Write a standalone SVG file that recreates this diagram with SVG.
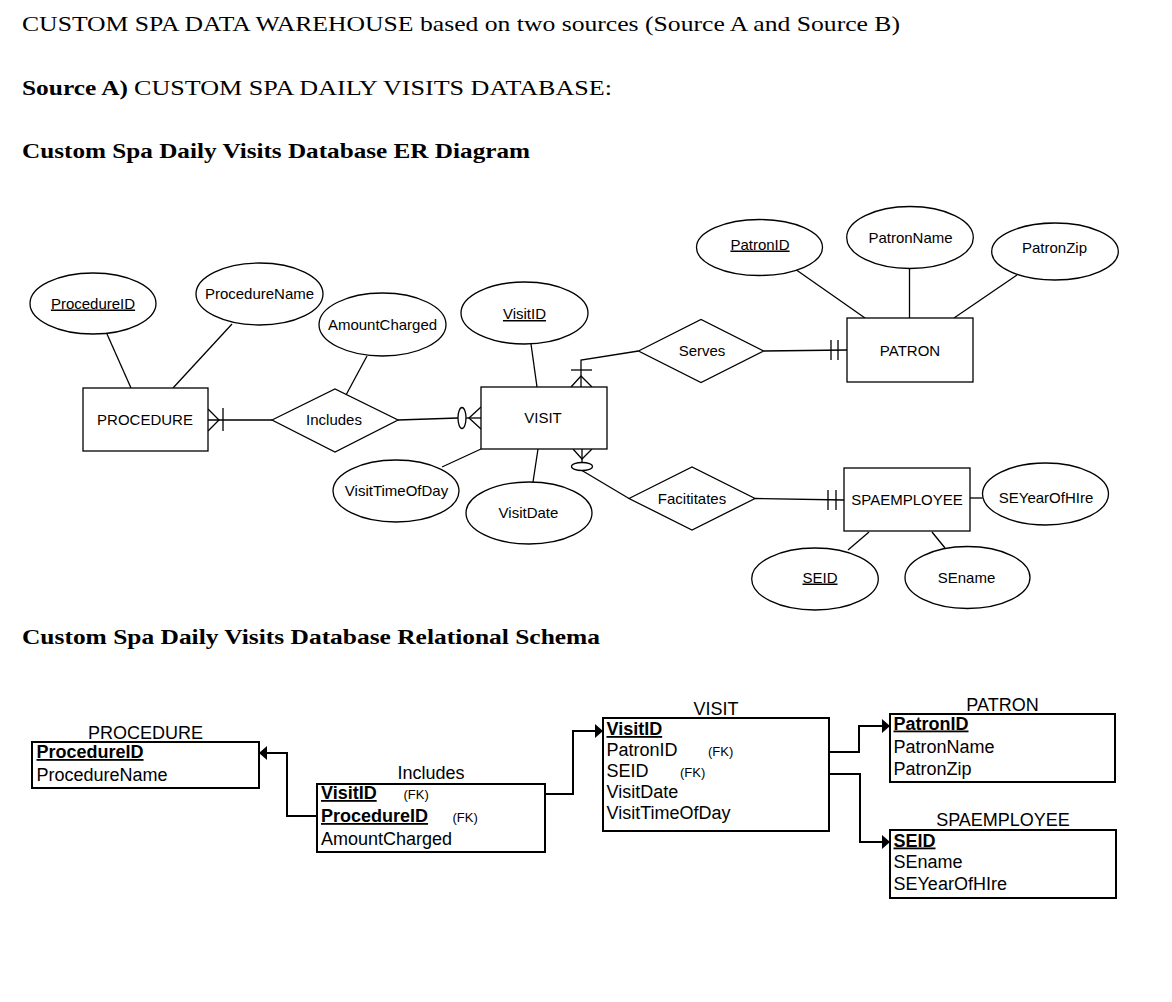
<svg xmlns="http://www.w3.org/2000/svg" width="1172" height="1002" viewBox="0 0 1172 1002">
<style>
.t{font-family:"Liberation Serif","Times New Roman",serif;font-size:22px;fill:#000}
.b{font-weight:bold}
.er{font-family:"Liberation Sans",Arial,sans-serif;font-size:15px;fill:#000;text-anchor:middle}
.u{text-decoration:underline}
.shape{fill:#fff;stroke:#000;stroke-width:1.3}
.ln{stroke:#000;stroke-width:1.3;fill:none}
.tb{fill:#fff;stroke:#000;stroke-width:2}
.rt{font-family:"Liberation Sans",Arial,sans-serif;font-size:18px;fill:#000}
.lbl{text-anchor:middle}
.fk{font-family:"Liberation Sans",Arial,sans-serif;font-size:13px;fill:#000}
.cn{stroke:#000;stroke-width:2;fill:none;marker-end:url(#arr)}
</style>
<defs>
<marker id="arr" viewBox="0 0 8 14" refX="8" refY="7" markerWidth="8" markerHeight="14" markerUnits="userSpaceOnUse" orient="auto">
<path d="M0,0 L8,7 L0,14 z" fill="#000"/>
</marker>
</defs>
<rect width="1172" height="1002" fill="#fff"/>

<g id="titles">
<text class="t" x="22" y="31" textLength="878" lengthAdjust="spacingAndGlyphs">CUSTOM SPA DATA WAREHOUSE based on two sources (Source A and Source B)</text>
<text class="t b" x="22" y="95" textLength="106" lengthAdjust="spacingAndGlyphs">Source A)</text>
<text class="t" x="134" y="95" textLength="478" lengthAdjust="spacingAndGlyphs">CUSTOM SPA DAILY VISITS DATABASE:</text>
<text class="t b" x="22" y="158" textLength="508" lengthAdjust="spacingAndGlyphs">Custom Spa Daily Visits Database ER Diagram</text>
<text class="t b" x="22" y="644" textLength="578" lengthAdjust="spacingAndGlyphs">Custom Spa Daily Visits Database Relational Schema</text>
</g>

<g id="er-connectors">
<line class="ln" x1="107" y1="334" x2="131" y2="388"/>
<line class="ln" x1="232" y1="324" x2="173" y2="388"/>
<line class="ln" x1="367" y1="356" x2="346" y2="395"/>
<line class="ln" x1="208" y1="420" x2="272" y2="420"/>
<polyline class="ln" points="208,409 219,420 208,431"/>
<line class="ln" x1="223" y1="408" x2="223" y2="431"/>
<line class="ln" x1="398" y1="420" x2="458" y2="418"/>
<ellipse class="shape" cx="462" cy="418" rx="4" ry="10.5"/>
<polyline class="ln" points="481,407 469,418 481,429"/>
<line class="ln" x1="466" y1="418" x2="481" y2="418"/>
<line class="ln" x1="531" y1="344" x2="537" y2="387"/>
<polyline class="ln" points="571,387 581,376 592,387"/>
<polyline class="ln" points="581,387 581,360 638.5,351"/>
<line class="ln" x1="571" y1="370" x2="592" y2="370"/>
<line class="ln" x1="763.5" y1="351" x2="847" y2="350"/>
<line class="ln" x1="831" y1="340" x2="831" y2="360"/>
<line class="ln" x1="838" y1="340" x2="838" y2="360"/>
<line class="ln" x1="795" y1="269" x2="865" y2="318"/>
<line class="ln" x1="909.5" y1="269" x2="909.5" y2="318"/>
<line class="ln" x1="1017" y1="275" x2="954" y2="318"/>
<polyline class="ln" points="573,449 582,459 592,449"/>
<line class="ln" x1="582" y1="449" x2="582" y2="462.5"/>
<ellipse class="shape" cx="582" cy="466.5" rx="10.5" ry="4"/>
<line class="ln" x1="582" y1="470.5" x2="629" y2="498.5"/>
<line class="ln" x1="755" y1="498.5" x2="844" y2="500"/>
<line class="ln" x1="828" y1="490" x2="828" y2="510"/>
<line class="ln" x1="836" y1="490" x2="836" y2="510"/>
<line class="ln" x1="970" y1="498" x2="982.5" y2="498"/>
<line class="ln" x1="869" y1="532" x2="848" y2="550"/>
<line class="ln" x1="932" y1="532" x2="945" y2="548"/>
<line class="ln" x1="442" y1="467" x2="481" y2="449"/>
<line class="ln" x1="538" y1="449" x2="533" y2="482"/>
</g>

<g id="er-procedure"><rect class="shape" x="83" y="388" width="125" height="63"/><text class="er" x="145" y="425">PROCEDURE</text></g>
<g id="er-visit"><rect class="shape" x="481" y="387" width="126" height="62"/><text class="er" x="543" y="423">VISIT</text></g>
<g id="er-patron"><rect class="shape" x="847" y="318" width="126" height="64"/><text class="er" x="910" y="356">PATRON</text></g>
<g id="er-spaemployee"><rect class="shape" x="844" y="468" width="126" height="63"/><text class="er" x="907" y="505">SPAEMPLOYEE</text></g>

<g id="er-includes"><polygon class="shape" points="272,420 335,389 398,420 335,452"/><text class="er" x="334" y="425">Includes</text></g>
<g id="er-serves"><polygon class="shape" points="638.5,351 701,319.5 763.5,351 701,382.5"/><text class="er" x="702" y="356">Serves</text></g>
<g id="er-facititates"><polygon class="shape" points="629,498.5 692,467 755,498.5 692,530"/><text class="er" x="692" y="503.5">Facititates</text></g>

<g id="attr-procedureid"><ellipse class="shape" cx="93" cy="303.5" rx="63" ry="30.5"/><text class="er u" x="93" y="308.5">ProcedureID</text></g>
<g id="attr-procedurename"><ellipse class="shape" cx="259.5" cy="294" rx="63.5" ry="31"/><text class="er" x="259.5" y="299">ProcedureName</text></g>
<g id="attr-amountcharged"><ellipse class="shape" cx="382.5" cy="324.5" rx="63.5" ry="31.5"/><text class="er" x="382.5" y="329.5">AmountCharged</text></g>
<g id="attr-visitid"><ellipse class="shape" cx="524.5" cy="313" rx="63.5" ry="31"/><text class="er u" x="524.5" y="319">VisitID</text></g>
<g id="attr-visittimeofday"><ellipse class="shape" cx="396" cy="491" rx="63" ry="31"/><text class="er" x="396.5" y="496">VisitTimeOfDay</text></g>
<g id="attr-visitdate"><ellipse class="shape" cx="529" cy="513" rx="63" ry="31"/><text class="er" x="528.5" y="518">VisitDate</text></g>
<g id="attr-patronid"><ellipse class="shape" cx="759.5" cy="247.5" rx="63" ry="28"/><text class="er u" x="760" y="249.5">PatronID</text></g>
<g id="attr-patronname"><ellipse class="shape" cx="910" cy="237.5" rx="63.3" ry="31"/><text class="er" x="910.5" y="242.5">PatronName</text></g>
<g id="attr-patronzip"><ellipse class="shape" cx="1055" cy="251.5" rx="63.3" ry="28.5"/><text class="er" x="1054.5" y="253">PatronZip</text></g>
<g id="attr-seyearofhire"><ellipse class="shape" cx="1045.5" cy="494" rx="63" ry="31"/><text class="er" x="1046" y="503">SEYearOfHIre</text></g>
<g id="attr-seid"><ellipse class="shape" cx="815" cy="579" rx="63.3" ry="31"/><text class="er u" x="820" y="582.5">SEID</text></g>
<g id="attr-sename"><ellipse class="shape" cx="967.5" cy="577.5" rx="62.5" ry="31"/><text class="er" x="966.5" y="582.5">SEname</text></g>

<g id="rel-connectors">
<path class="cn" d="M317,816 H287 V753 H259"/>
<path class="cn" d="M545,794 H573 V731 H603"/>
<path class="cn" d="M829,752 H859 V726 H890"/>
<path class="cn" d="M829,774 H860 V842 H890"/>
</g>

<g id="rel-procedure">
<text class="rt lbl" x="145.5" y="739">PROCEDURE</text>
<rect class="tb" x="32" y="742" width="227" height="46"/>
<text class="rt b u" x="36.5" y="758">ProcedureID</text>
<text class="rt" x="36.5" y="781">ProcedureName</text>
</g>
<g id="rel-includes">
<text class="rt lbl" x="431" y="779">Includes</text>
<rect class="tb" x="317" y="784" width="228" height="68"/>
<text class="rt b u" x="321" y="799">VisitID</text>
<text class="fk" x="403.5" y="799">(FK)</text>
<text class="rt b u" x="321" y="822">ProcedureID</text>
<text class="fk" x="452.5" y="822">(FK)</text>
<text class="rt" x="321" y="845">AmountCharged</text>
</g>
<g id="rel-visit">
<text class="rt lbl" x="716" y="715">VISIT</text>
<rect class="tb" x="603" y="718" width="226" height="113"/>
<text class="rt b u" x="606.5" y="735">VisitID</text>
<text class="rt" x="606.5" y="756">PatronID</text>
<text class="fk" x="708" y="756">(FK)</text>
<text class="rt" x="606.5" y="776.5">SEID</text>
<text class="fk" x="680" y="776.5">(FK)</text>
<text class="rt" x="606.5" y="797.5">VisitDate</text>
<text class="rt" x="606.5" y="819">VisitTimeOfDay</text>
</g>
<g id="rel-patron">
<text class="rt lbl" x="1002.5" y="710.5">PATRON</text>
<rect class="tb" x="890" y="714" width="225" height="68"/>
<text class="rt b u" x="893.5" y="729.5">PatronID</text>
<text class="rt" x="893.5" y="752.5">PatronName</text>
<text class="rt" x="893.5" y="774.5">PatronZip</text>
</g>
<g id="rel-spaemployee">
<text class="rt lbl" x="1003" y="826">SPAEMPLOYEE</text>
<rect class="tb" x="890" y="830" width="226" height="68"/>
<text class="rt b u" x="893.5" y="846.5">SEID</text>
<text class="rt" x="893.5" y="868">SEname</text>
<text class="rt" x="893.5" y="889.5">SEYearOfHIre</text>
</g>
</svg>
